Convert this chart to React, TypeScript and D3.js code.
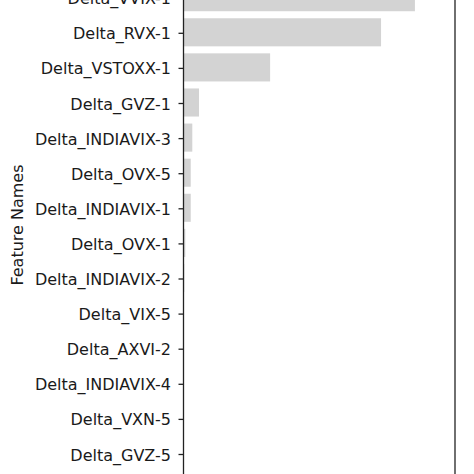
import React from "react";
import * as d3 from "d3";

const featureNames = [
  "Delta_VVIX-1",
  "Delta_RVX-1",
  "Delta_VSTOXX-1",
  "Delta_GVZ-1",
  "Delta_INDIAVIX-3",
  "Delta_OVX-5",
  "Delta_INDIAVIX-1",
  "Delta_OVX-1",
  "Delta_INDIAVIX-2",
  "Delta_VIX-5",
  "Delta_AXVI-2",
  "Delta_INDIAVIX-4",
  "Delta_VXN-5",
  "Delta_GVZ-5",
];

const importances = [
  0.0895, 0.0764, 0.0335, 0.006, 0.0034, 0.0028, 0.0028, 0.0007, 0.0003,
  0.0002, 0.0002, 0.0002, 0.0001, 0.0001,
];

const xMax = 0.105;
const yLabel = "Feature Names";

const W = 474;
const H = 474;
const axLeft = 183.5;
const axRight = 455;
const step = 35.1;
const firstCenter = -2.8;

export default function App() {
  const x = d3.scaleLinear().domain([0, xMax]).range([axLeft, axRight]);
  const y0 = firstCenter - step / 2;
  const y = d3
    .scaleBand<string>()
    .domain(featureNames)
    .range([y0, y0 + step * featureNames.length])
    .paddingInner(0.2)
    .paddingOuter(0.1);

  const font = "'DejaVu Sans', sans-serif";
  const fs = 16;
  return (
    <svg
      width={W}
      height={H}
      style={{ position: "absolute", left: 0, top: 0, background: "#fff" }}
    >
      <rect x={0} y={0} width={W} height={H} fill="#fff" />
      {featureNames.map((n, i) => (
        <rect
          key={n}
          x={x(0)}
          y={y(n)!}
          width={x(importances[i]) - x(0)}
          height={y.bandwidth()}
          fill="#d3d3d3"
        />
      ))}
      {featureNames.map((n) => {
        const cy = y(n)! + y.bandwidth() / 2;
        return (
          <g key={n}>
            <line
              x1={axLeft - 5}
              x2={axLeft}
              y1={cy + 1}
              y2={cy + 1}
              stroke="#222"
              strokeWidth={1.3}
            />
            <text
              x={axLeft - 12.5}
              y={cy + 1.5}
              textAnchor="end"
              dominantBaseline="central"
              fontFamily={font}
              fontSize={fs}
              fill="#1a1a1a"
            >
              {n}
            </text>
          </g>
        );
      })}
      <line x1={axLeft} x2={axLeft} y1={0} y2={H} stroke="#222" strokeWidth={1.3} />
      <line x1={axRight} x2={axRight} y1={0} y2={H} stroke="#222" strokeWidth={1.3} />
      <text
        transform={`translate(17,225) rotate(-90)`}
        textAnchor="middle"
        dominantBaseline="central"
        fontFamily={font}
        fontSize={fs}
        fill="#1a1a1a"
      >
        {yLabel}
      </text>
    </svg>
  );
}
